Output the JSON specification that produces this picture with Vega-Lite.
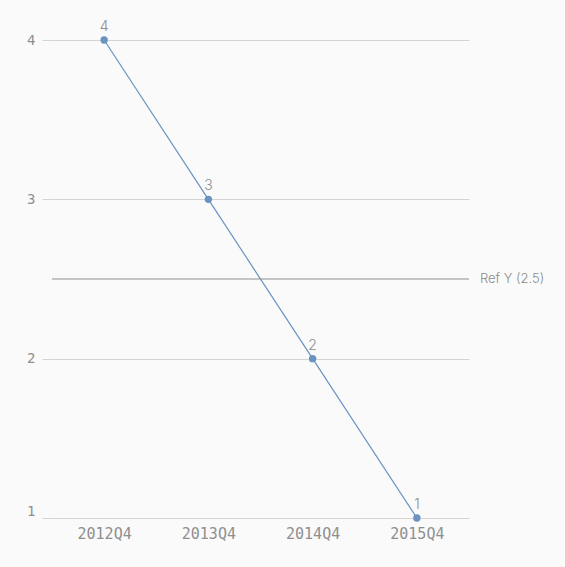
{
  "$schema": "https://vega.github.io/schema/vega-lite/v6.json",
  "width": 417,
  "height": 478,
  "autosize": {"type": "none"},
  "padding": {"left": 52, "top": 40, "right": 96, "bottom": 49},
  "background": "#fafafa",
  "config": {
    "view": {"stroke": null},
    "axis": {"labelColor": "#8c8c8c", "grid": false, "domain": false, "ticks": false}
  },
  "datasets": {
    "main": [
      {"quarter": "2012Q4", "value": 4},
      {"quarter": "2013Q4", "value": 3},
      {"quarter": "2014Q4", "value": 2},
      {"quarter": "2015Q4", "value": 1}
    ],
    "ref": [{"y": 2.5, "label": "Ref Y (2.5)"}]
  },
  "layer": [
    {
      "data": {"name": "main"},
      "mark": {"type": "line", "color": "#6b93c1", "strokeWidth": 1.2, "clip": false},
      "encoding": {
        "x": {"field": "quarter", "type": "ordinal", "scale": {"type": "point", "padding": 0.5},
          "axis": {"title": null, "labelAngle": 0, "labelFont": "DejaVu Sans Mono", "labelFontSize": 15, "labelPadding": 8, "labelColor": "#8f8f8f"}},
        "y": {"field": "value", "type": "quantitative", "scale": {"domain": [1, 4], "nice": false, "zero": false},
          "axis": {"title": null, "values": [1, 2, 3, 4], "format": "d", "grid": true, "gridColor": "#d4d4d4", "ticks": true, "tickSize": 10, "tickColor": "#d4d4d4", "labelPadding": 7, "labelFont": "DejaVu Sans Mono", "labelFontSize": 14, "labelColor": "#8f8f8f",
            "labelBaseline": {"condition": {"test": "datum.value == 1", "value": "bottom"}, "value": "middle"}}}
      }
    },
    {
      "data": {"name": "main"},
      "mark": {"type": "point", "filled": true, "color": "#6b93c1", "size": 55, "opacity": 1, "clip": false},
      "encoding": {
        "x": {"field": "quarter", "type": "ordinal"},
        "y": {"field": "value", "type": "quantitative"}
      }
    },
    {
      "data": {"name": "main"},
      "mark": {"type": "text", "color": "#8c8c8c", "font": "Inter", "fontSize": 14, "fontWeight": 300, "baseline": "bottom", "dy": -6},
      "encoding": {
        "x": {"field": "quarter", "type": "ordinal"},
        "y": {"field": "value", "type": "quantitative"},
        "text": {"field": "value", "type": "quantitative"}
      }
    },
    {
      "data": {"name": "ref"},
      "mark": {"type": "rule", "color": "#8e8e8e", "strokeWidth": 1.2},
      "encoding": {"y": {"field": "y", "type": "quantitative"}}
    },
    {
      "data": {"name": "ref"},
      "mark": {"type": "text", "color": "#8c8c8c", "font": "Inter", "fontSize": 13, "fontWeight": 300, "align": "left", "baseline": "middle", "dx": 11},
      "encoding": {
        "y": {"field": "y", "type": "quantitative"},
        "x": {"value": "width"},
        "text": {"field": "label", "type": "nominal"}
      }
    }
  ]
}
